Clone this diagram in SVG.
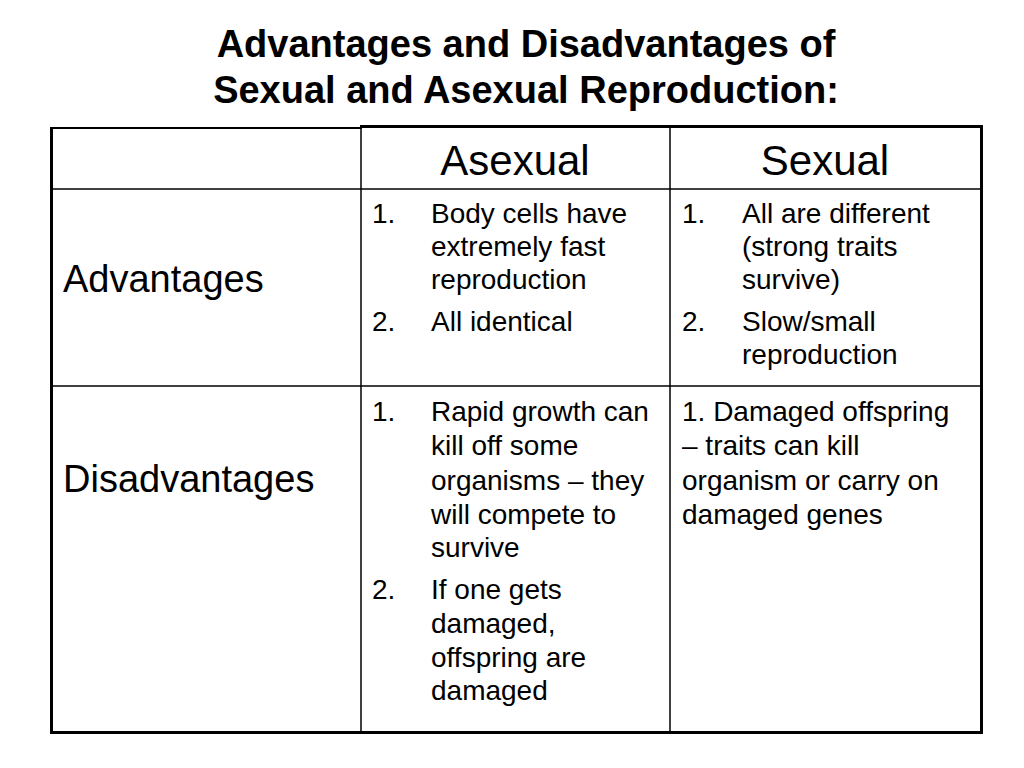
<svg xmlns="http://www.w3.org/2000/svg" width="1024" height="768" viewBox="0 0 1024 768">
<style>
text{font-family:"Liberation Sans",Arial,sans-serif;fill:#000}
.t{font-size:38px;font-weight:bold}
.h{font-size:42px}
.l{font-size:38px}
.c{font-size:28px}
line{stroke:#000}
</style>
<rect width="1024" height="768" fill="#fff"/>
<text class="t" x="526" y="57" text-anchor="middle">Advantages and Disadvantages of</text>
<text class="t" x="526" y="103" text-anchor="middle">Sexual and Asexual Reproduction:</text>
<g id="grid">
<line x1="50" y1="128" x2="362" y2="128" stroke-width="2"/>
<line x1="360" y1="126.5" x2="983" y2="126.5" stroke-width="3"/>
<line x1="51.5" y1="127" x2="51.5" y2="734" stroke-width="3"/>
<line x1="981.5" y1="125" x2="981.5" y2="734" stroke-width="3"/>
<line x1="50" y1="732.5" x2="983" y2="732.5" stroke-width="3"/>
<line x1="361" y1="127" x2="361" y2="733" stroke-width="1.5"/>
<line x1="670" y1="127" x2="670" y2="733" stroke-width="1.5"/>
<line x1="51" y1="189" x2="982" y2="189" stroke-width="1.5"/>
<line x1="51" y1="386" x2="982" y2="386" stroke-width="1.5"/>
</g>
<g id="header">
<text class="h" x="515" y="175" text-anchor="middle">Asexual</text>
<text class="h" x="825" y="175" text-anchor="middle">Sexual</text>
</g>
<g id="rowlabels">
<text class="l" x="63" y="292">Advantages</text>
<text class="l" x="63" y="492">Disadvantages</text>
</g>
<g id="asexAdv">
<text class="c" x="372" y="223">1.</text>
<text class="c" x="431" y="223">Body cells have</text>
<text class="c" x="431" y="256">extremely fast</text>
<text class="c" x="431" y="289">reproduction</text>
<text class="c" x="372" y="331">2.</text>
<text class="c" x="431" y="331">All identical</text>
</g>
<g id="sexAdv">
<text class="c" x="682" y="223">1.</text>
<text class="c" x="742" y="223">All are different</text>
<text class="c" x="742" y="256">(strong traits</text>
<text class="c" x="742" y="289">survive)</text>
<text class="c" x="682" y="331">2.</text>
<text class="c" x="742" y="331">Slow/small</text>
<text class="c" x="742" y="364">reproduction</text>
</g>
<g id="asexDis">
<text class="c" x="372" y="421">1.</text>
<text class="c" x="431" y="421">Rapid growth can</text>
<text class="c" x="431" y="455">kill off some</text>
<text class="c" x="431" y="490">organisms – they</text>
<text class="c" x="431" y="524">will compete to</text>
<text class="c" x="431" y="557">survive</text>
<text class="c" x="372" y="599">2.</text>
<text class="c" x="431" y="599">If one gets</text>
<text class="c" x="431" y="633">damaged,</text>
<text class="c" x="431" y="667">offspring are</text>
<text class="c" x="431" y="700">damaged</text>
</g>
<g id="sexDis">
<text class="c" x="682" y="421">1. Damaged offspring</text>
<text class="c" x="682" y="455">– traits can kill</text>
<text class="c" x="682" y="490">organism or carry on</text>
<text class="c" x="682" y="524">damaged genes</text>
</g>
</svg>
